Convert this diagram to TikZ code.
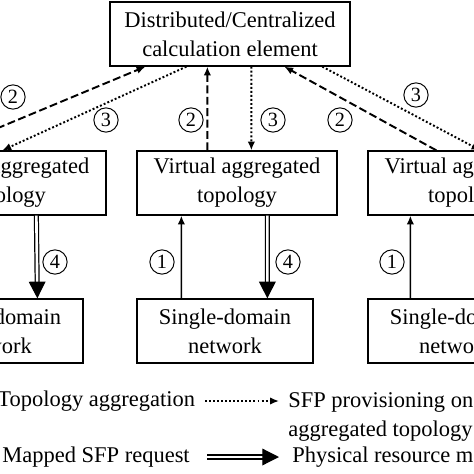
\documentclass[tikz,border=0pt]{standalone}
\usepackage{fontspec}
\setmainfont{Liberation Serif}
\usetikzlibrary{arrows.meta,calc}

\tikzset{
  box/.style={draw, line width=0.75pt, align=center, inner sep=2pt,
    minimum width=4cm, minimum height=1.28cm,
    font=\fontsize{12.8}{16.5}\selectfont},
  netbox/.style={box, minimum width=3.52cm},
  num/.style={circle, draw, line width=0.55pt, inner sep=0pt,
    minimum size=13.8pt, font=\fontsize{11.5}{12}\selectfont},
  legtext/.style={align=left, inner sep=0pt,
    font=\fontsize{12.8}{16.5}\selectfont},
  tip/.style={-{Latex[length=5pt,width=4.2pt]}},
  dashedarrow/.style={tip, line width=1.1pt, dash pattern=on 4.5pt off 2pt},
  dottedarrow/.style={tip, line width=1.1pt, dash pattern=on 1.1pt off 1.2pt},
  solidarrow/.style={tip, line width=0.9pt},
  dblarrow/.style={double, double distance=1.5pt, line width=0.7pt,
    -{Triangle[length=9.5pt,width=9.5pt]}}
}

\begin{document}
\begin{tikzpicture}[x=0.02cm, y=-0.02cm]
    % 1. Frame of the visible part
    \useasboundingbox (0,0) rectangle (474,474);
    \clip (0,0) rectangle (474,474);

    % 2. Boxes
    \node[box, minimum width=4.8cm] (calc) at (230,34) {Distributed/Centralized\\calculation element};

    \node[box] (vat1) at (6,183) {Virtual aggregated\\topology};
    \node[box] (vat2) at (237,183) {Virtual aggregated\\topology};
    \node[box] (vat3) at (468,183) {Virtual aggregated\\topology};

    \node[netbox] (sdn1) at (-5,331) {Single-domain\\network};
    \node[netbox] (sdn2) at (225,331) {Single-domain\\network};
    \node[netbox] (sdn3) at (456,331) {Single-domain\\network};

    % 3. Topology aggregation (solid, up)
    \draw[solidarrow] ($(sdn2.north west)+(45,0)$) -- ($(vat2.south west)+(45,0)$);
    \draw[solidarrow] ($(sdn3.north west)+(43,0)$) -- ($(vat3.south west)+(43,0)$);

    % 4. Mapped SFP request (dashed, up to the calculation element)
    \draw[dashedarrow] ($(vat1.north west)+(39,0)$) -- ($(calc.south west)+(36,0)$);
    \draw[dashedarrow] ($(vat2.north west)+(71,0)$) -- ($(calc.south west)+(98,0)$);
    \draw[dashedarrow] ($(vat3.north west)+(69,0)$) -- ($(calc.south west)+(175,0)$);

    % 5. SFP provisioning (dotted, down)
    \draw[dottedarrow] ($(calc.south west)+(77,0)$) -- ($(vat1.north west)+(97,0)$);
    \draw[dottedarrow] ($(calc.south west)+(142,0)$) -- ($(vat2.north west)+(115,0)$);
    \draw[dottedarrow] ($(calc.south west)+(213,0)$) -- ($(vat3.north west)+(113,0)$);

    % 6. Physical resource mapping (double, down)
    \draw[dblarrow] ($(vat1.south west)+(131,0)$) -- ($(sdn1.north west)+(131,0)$);
    \draw[dblarrow] ($(vat2.south west)+(131,0)$) -- ($(sdn2.north west)+(131,0)$);
    \draw[dblarrow] ($(vat3.south west)+(131,0)$) -- ($(sdn3.north west)+(131,0)$);

    % 7. Step numbers
    \node[num] (n2a) at (13,97) {2};
    \node[num] (n3a) at (106,120) {3};
    \node[num] (n2b) at (191,120) {2};
    \node[num] (n3b) at (273,120) {3};
    \node[num] (n2c) at (340,120) {2};
    \node[num] (n3c) at (416,95) {3};
    \node[num] (n4a) at (55,262) {4};
    \node[num] (n1b) at (162,262) {1};
    \node[num] (n4b) at (288,262) {4};
    \node[num] (n1c) at (392,262) {1};

    % 8. Legend
    \node[legtext, anchor=west] (lgtopo) at (-3,401) {Topology aggregation};
    \node[legtext, anchor=west] (lgreq) at (2,457) {Mapped SFP request};
    \node[legtext, anchor=north west] (lgsfp) at (288,392) {SFP provisioning on\\aggregated topology};
    \node[legtext, anchor=west] (lgmap) at (292,457) {Physical resource mapping};
    \coordinate (dotA) at (205,401);
    \coordinate (dotB) at (279,401);
    \coordinate (dblA) at (207,457);
    \coordinate (dblB) at (279,457);
    \draw[dottedarrow] (dotA) -- (dotB);
    \draw[dblarrow] (dblA) -- (dblB);
\end{tikzpicture}
\end{document}
